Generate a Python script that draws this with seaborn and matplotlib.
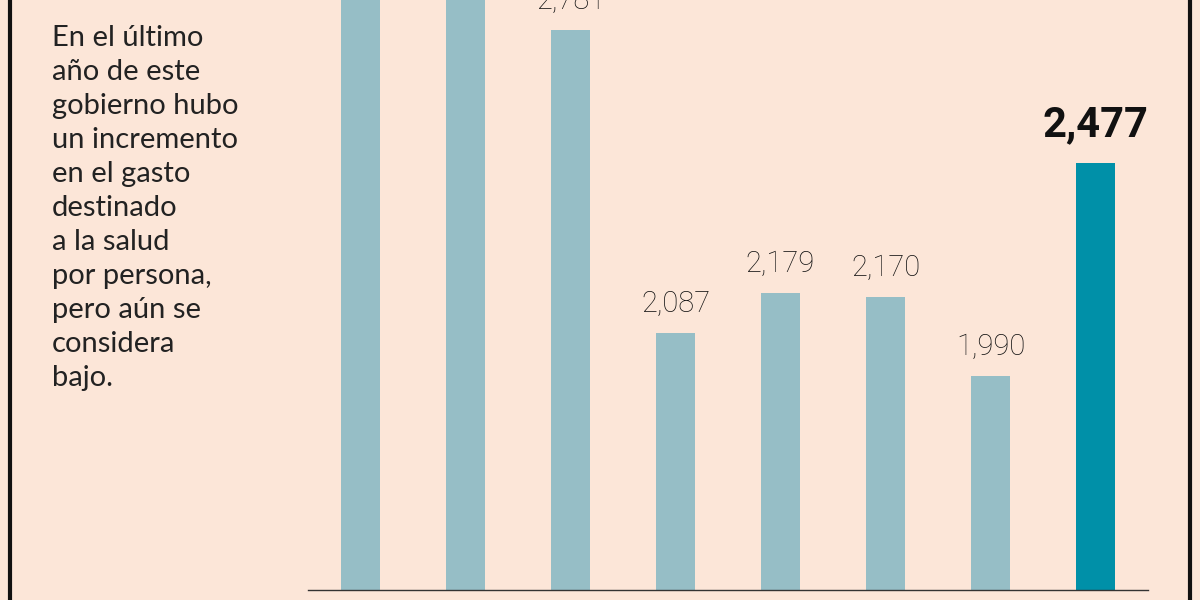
import matplotlib
matplotlib.use("Agg")
import matplotlib.pyplot as plt
import seaborn as sns
import pandas as pd
from matplotlib.patches import Rectangle

years = ["2011", "2012", "2013", "2014", "2015", "2016", "2017", "2018"]
values = [2950, 3000, 2781, 2087, 2179, 2170, 1990, 2477]
labels = ["", "", "2,781", "2,087", "2,179", "2,170", "1,990", "2,477"]
colors = ["#96bec6"] * 7 + ["#0090a8"]
bg = "#fce6d8"

sns.set_theme(style="white")
plt.rcParams['font.family'] = ['Roboto', 'DejaVu Sans']

fig = plt.figure(figsize=(12, 6), dpi=100, facecolor=bg)
ax = fig.add_axes([308/1200, 10/600, 840/1200, 590/600])
ax.set_facecolor(bg)
df = pd.DataFrame({"year": years, "value": values})
sns.barplot(data=df, x="year", y="value", hue="year", palette=colors, legend=False,
            width=0.38, ax=ax, saturation=1, linewidth=0, edgecolor="none")
ax.set_ylim(1500, 2850)
ax.set_xlim(-0.5, 7.5)
for s in ["top", "right", "left"]:
    ax.spines[s].set_visible(False)
ax.spines["bottom"].set_color("#333333")
ax.spines["bottom"].set_linewidth(1)
ax.set_xticks([]); ax.set_yticks([])
ax.set_xlabel(""); ax.set_ylabel("")
for i, (v, l) in enumerate(zip(values, labels)):
    if not l:
        continue
    last = i == len(values) - 1
    ax.text(i, v + (35 if not last else 40), l, ha="center", va="bottom",
            fontsize=30 if last else 21, fontweight="bold" if last else "light",
            color="#111111", clip_on=False)

fig.text(52/1200, 1 - 25/600, "En el último\naño de este\ngobierno hubo\nun incremento\nen el gasto\ndestinado\na la salud\npor persona,\npero aún se\nconsidera\nbajo.",
         ha="left", va="top", fontsize=21, color="#222222", linespacing=1.38,
         family=["Lato", "DejaVu Sans"], transform=fig.transFigure)

fig.add_artist(Rectangle((10/1200, -0.01), 1180/1200, 1.02, transform=fig.transFigure,
                         fill=False, edgecolor="#111111", linewidth=3))
fig.savefig("out.png", dpi=100, facecolor=bg)
